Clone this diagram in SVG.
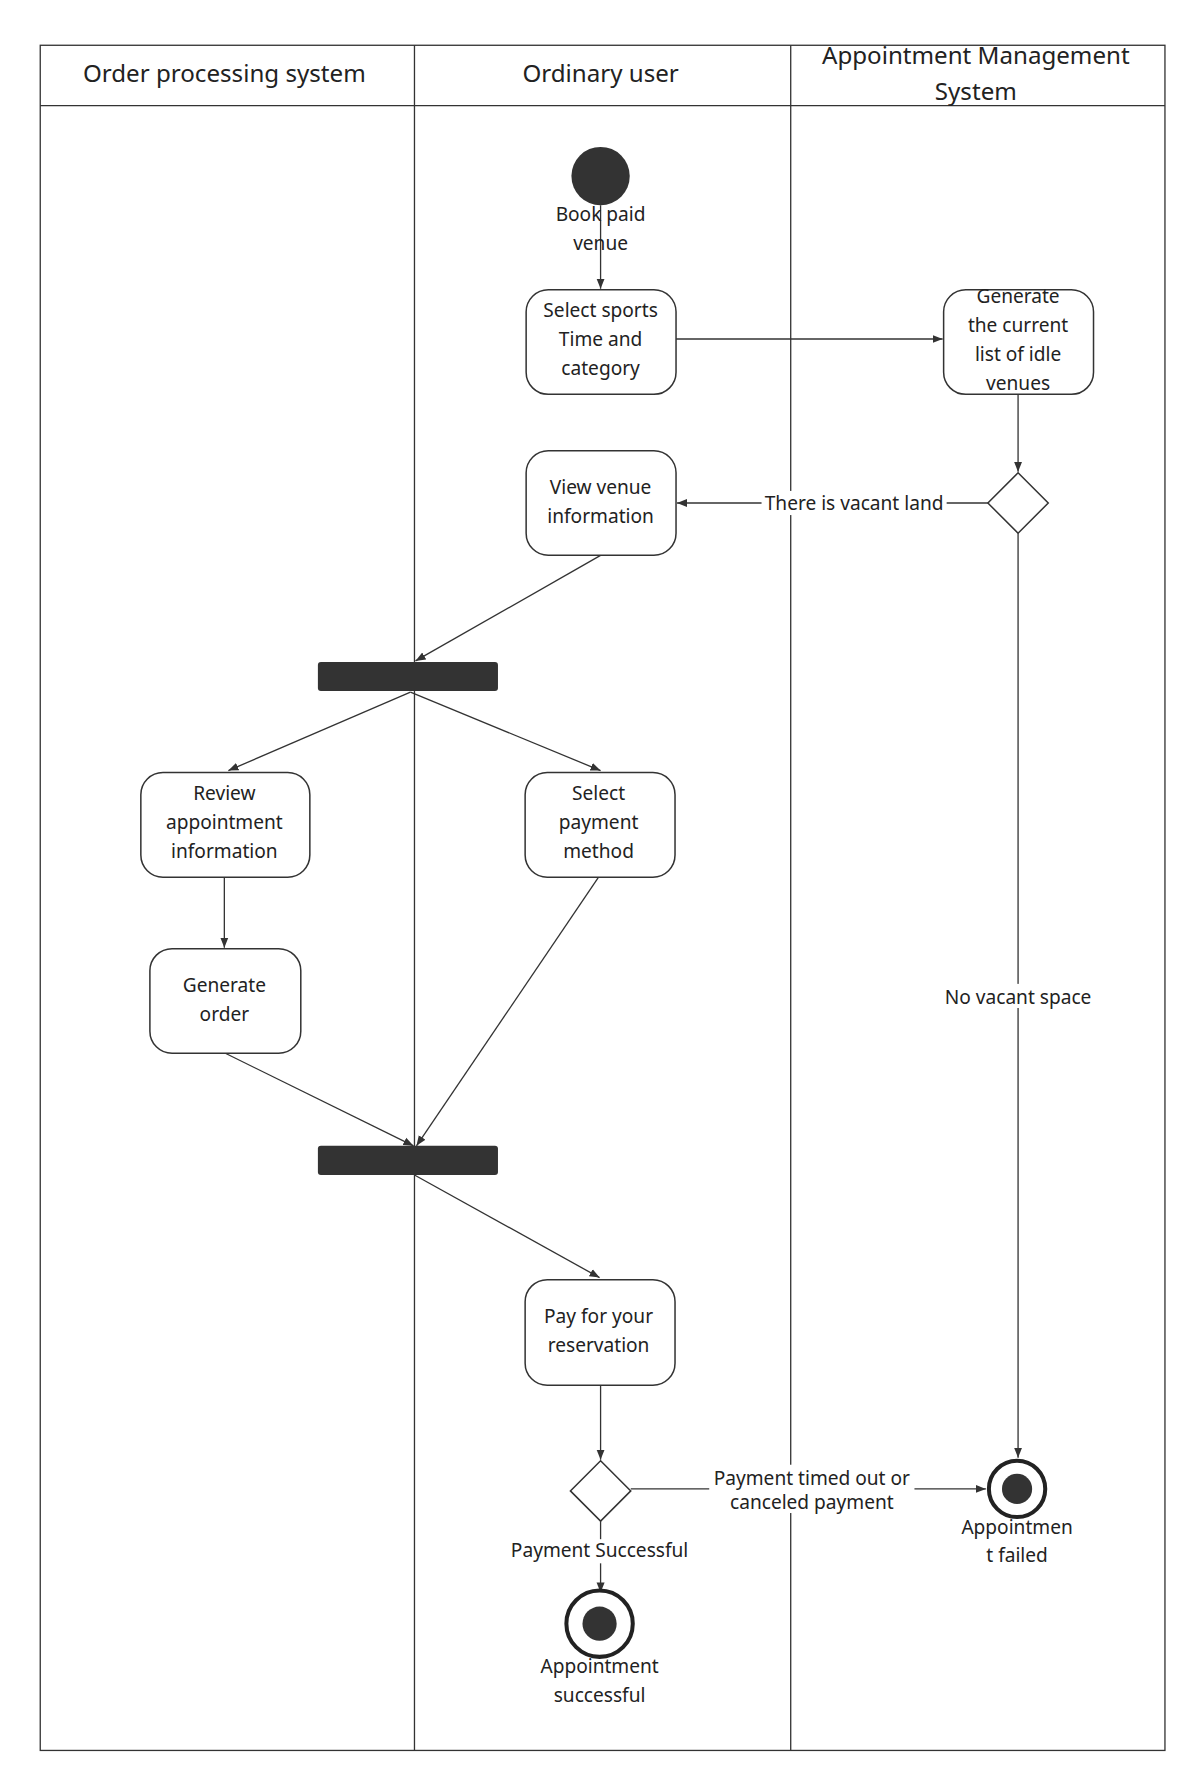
<svg xmlns="http://www.w3.org/2000/svg" width="1200" height="1785" viewBox="0 0 1200 1785">
<defs>
<marker id="ar" viewBox="0 0 10 10" refX="10" refY="5" markerWidth="10" markerHeight="10" markerUnits="userSpaceOnUse" orient="auto"><path d="M0,1 L10,5 L0,9 z" fill="#333"/></marker>
<style>
text{font-family:"Noto Sans","Open Sans","Liberation Sans",sans-serif;font-size:19px;fill:#222;text-anchor:middle}
.h{font-size:24px}
.box{fill:#fff;stroke:#333;stroke-width:1.5}
.ln{stroke:#333;stroke-width:1.3;fill:none}
.c{stroke:#333;stroke-width:1.3;fill:none;marker-end:url(#ar)}
.bar{fill:#333}
.lbl{fill:#fff}
</style>
</defs>
<rect width="1200" height="1785" fill="#fff"/>
<g transform="scale(1.006)">
<g id="pool">
<rect x="40" y="45" width="1118" height="1695" class="ln"/>
<line x1="40" y1="105" x2="1158" y2="105" class="ln"/>
<line x1="412" y1="45" x2="412" y2="1740" class="ln"/>
<line x1="786" y1="45" x2="786" y2="1740" class="ln"/>
<text x="223" y="82" class="h">Order processing system</text>
<text x="597" y="82" class="h">Ordinary user</text>
<text x="970" y="64" class="h">Appointment Management</text>
<text x="970" y="99" class="h">System</text>
</g>
<g id="connectors">
<line x1="597" y1="204" x2="597" y2="287" class="c"/>
<line x1="672" y1="337" x2="937" y2="337" class="c"/>
<line x1="1012" y1="392" x2="1012" y2="469" class="c"/>
<line x1="982" y1="500" x2="673" y2="500" class="c"/>
<line x1="597" y1="552" x2="413" y2="657" class="c"/>
<line x1="408" y1="688" x2="227" y2="766" class="c"/>
<line x1="408" y1="688" x2="597" y2="766" class="c"/>
<line x1="223" y1="872" x2="223" y2="942" class="c"/>
<line x1="224" y1="1047" x2="411" y2="1139" class="c"/>
<line x1="595" y1="872" x2="414" y2="1139" class="c"/>
<line x1="412" y1="1168" x2="596" y2="1270" class="c"/>
<line x1="597" y1="1377" x2="597" y2="1451" class="c"/>
<line x1="627" y1="1480" x2="980" y2="1480" class="c"/>
<line x1="1012" y1="530" x2="1012" y2="1449" class="c"/>
<line x1="597" y1="1512" x2="597" y2="1583" class="c"/>
</g>
<g id="labels">
<rect x="757" y="488" width="184" height="24" class="lbl"/>
<text x="849" y="507">There is vacant land</text>
<rect x="935" y="978" width="154" height="24" class="lbl"/>
<text x="1012" y="998">No vacant space</text>
<rect x="705" y="1456" width="204" height="48" class="lbl"/>
<text x="807" y="1476">Payment timed out or</text>
<text x="807" y="1500">canceled payment</text>
<rect x="505" y="1530" width="184" height="24" class="lbl"/>
<text x="596" y="1548">Payment Successful</text>
</g>
<g id="start"><circle cx="597" cy="175" r="29" fill="#333"/>
<text x="597" y="220">Book paid</text><text x="597" y="249">venue</text></g>
<g id="selectSports"><rect x="523" y="288" width="149" height="104" rx="22" class="box"/>
<text x="597" y="315">Select sports</text><text x="597" y="344">Time and</text><text x="597" y="373">category</text></g>
<g id="generateList"><rect x="938" y="288" width="149" height="104" rx="22" class="box"/>
<text x="1012" y="301">Generate</text><text x="1012" y="330">the current</text><text x="1012" y="359">list of idle</text><text x="1012" y="388">venues</text></g>
<g id="decision1"><polygon points="1012,470 1042,500 1012,530 982,500" class="box"/></g>
<g id="viewVenue"><rect x="523" y="448" width="149" height="104" rx="22" class="box"/>
<text x="597" y="491">View venue</text><text x="597" y="520">information</text></g>
<g id="fork"><rect x="316" y="658" width="179" height="29" rx="3" class="bar"/></g>
<g id="review"><rect x="140" y="768" width="168" height="104" rx="22" class="box"/>
<text x="223" y="795">Review</text><text x="223" y="824">appointment</text><text x="223" y="853">information</text></g>
<g id="selectPayment"><rect x="522" y="768" width="149" height="104" rx="22" class="box"/>
<text x="595" y="795">Select</text><text x="595" y="824">payment</text><text x="595" y="853">method</text></g>
<g id="generateOrder"><rect x="149" y="943" width="150" height="104" rx="22" class="box"/>
<text x="223" y="986">Generate</text><text x="223" y="1015">order</text></g>
<g id="join"><rect x="316" y="1139" width="179" height="29" rx="3" class="bar"/></g>
<g id="pay"><rect x="522" y="1272" width="149" height="105" rx="22" class="box"/>
<text x="595" y="1315">Pay for your</text><text x="595" y="1344">reservation</text></g>
<g id="decision2"><polygon points="597,1452 627,1482 597,1512 567,1482" class="box"/></g>
<g id="endFailed"><circle cx="1011" cy="1480" r="28" fill="#fff" stroke="#222" stroke-width="4"/><circle cx="1011" cy="1480" r="15" fill="#333"/>
<text x="1011" y="1525">Appointmen</text><text x="1011" y="1553">t failed</text></g>
<g id="endSuccess"><circle cx="596" cy="1614" r="33" fill="#fff" stroke="#222" stroke-width="4"/><circle cx="596" cy="1614" r="17" fill="#333"/>
<text x="596" y="1663">Appointment</text><text x="596" y="1692">successful</text></g>
</g>
</svg>
